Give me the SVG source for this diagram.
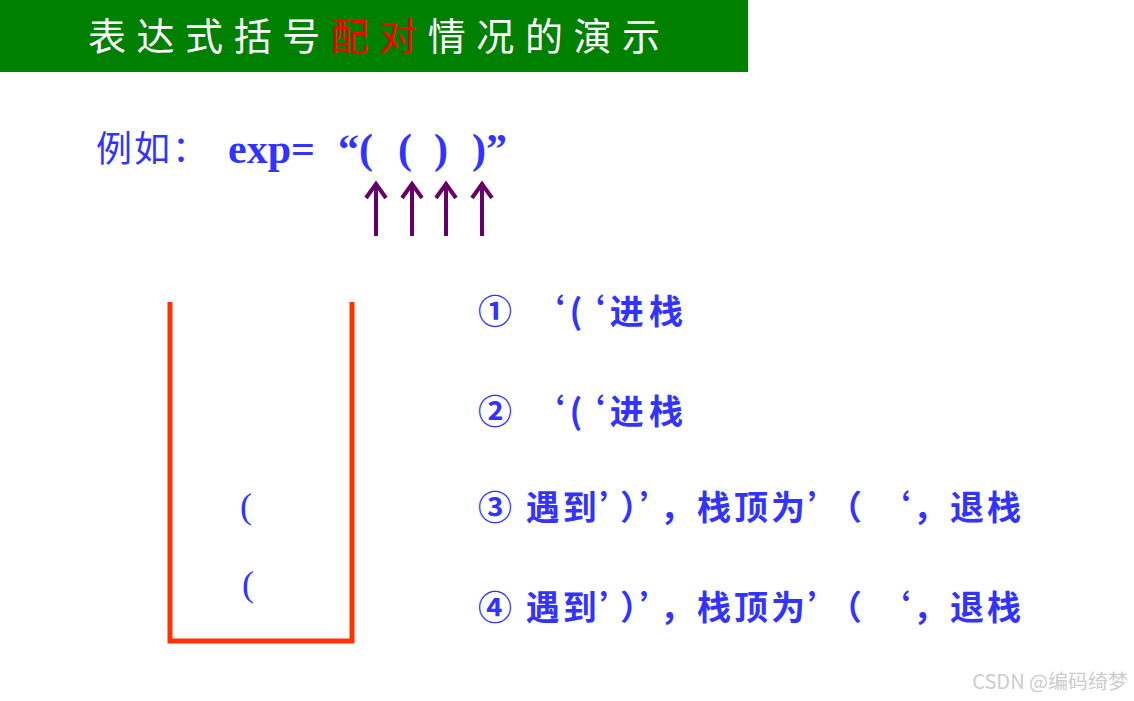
<svg xmlns="http://www.w3.org/2000/svg" width="1134" height="701" viewBox="0 0 1134 701">
<style>
.t{font-family:"Noto Sans CJK SC",sans-serif;font-weight:bold;font-size:34px;fill:#3333FF}
.s{font-family:"Liberation Serif","Noto Sans CJK SC",serif;font-weight:bold;fill:#3333FF}
.a{stroke:#660066;stroke-width:4;fill:none}
.k{stroke:#FF3300;stroke-width:5;fill:none}
</style>
<rect x="0" y="0" width="748" height="72" fill="#008000"/>
<text x="88" y="50" textLength="572" style="font-family:'Noto Sans CJK SC',serif;font-size:38px;fill:#fff">表达式括号<tspan fill="#FF0000">配对</tspan>情况的演示</text>
<text x="96" y="162" textLength="112" style="font-family:'Noto Sans CJK SC',serif;font-size:36px;fill:#3333FF">例如：</text>
<g class="s" style="font-size:42px">
<text x="228" y="163">exp=</text>
<text x="338" y="163">“(</text>
<text x="398" y="163">(</text>
<text x="434" y="163">)</text>
<text x="472" y="163">)”</text>
</g>
<g id="arrows">
<path class="a" d="M376,236 V185 M366,198 L376,184 L386,198"/>
<path class="a" d="M412,236 V185 M402,198 L412,184 L422,198"/>
<path class="a" d="M446,236 V185 M436,198 L446,184 L456,198"/>
<path class="a" d="M482,236 V185 M472,198 L482,184 L492,198"/>
</g>
<g id="stack">
<path class="k" d="M170,302 V641 H352 V302"/>
<text x="240" y="518" class="s" style="font-size:36px;font-weight:normal">(</text>
<text x="242" y="596" class="s" style="font-size:36px;font-weight:normal">(</text>
</g>
<g id="steps">
<text x="478" y="324" class="t" textLength="205">① ‘(‘进栈</text>
<text x="478" y="424" class="t" textLength="205">② ‘(‘进栈</text>
<text x="478" y="520" class="t" textLength="543">③ 遇到’）’，栈顶为’（ ‘，退栈</text>
<text x="478" y="620" class="t" textLength="543">④ 遇到’）’，栈顶为’（ ‘，退栈</text>
</g>
<text x="1128" y="689" text-anchor="end" style="font-family:'Noto Sans CJK SC',sans-serif;font-size:20px;fill:#ccc">CSDN @编码绮梦</text>
</svg>
